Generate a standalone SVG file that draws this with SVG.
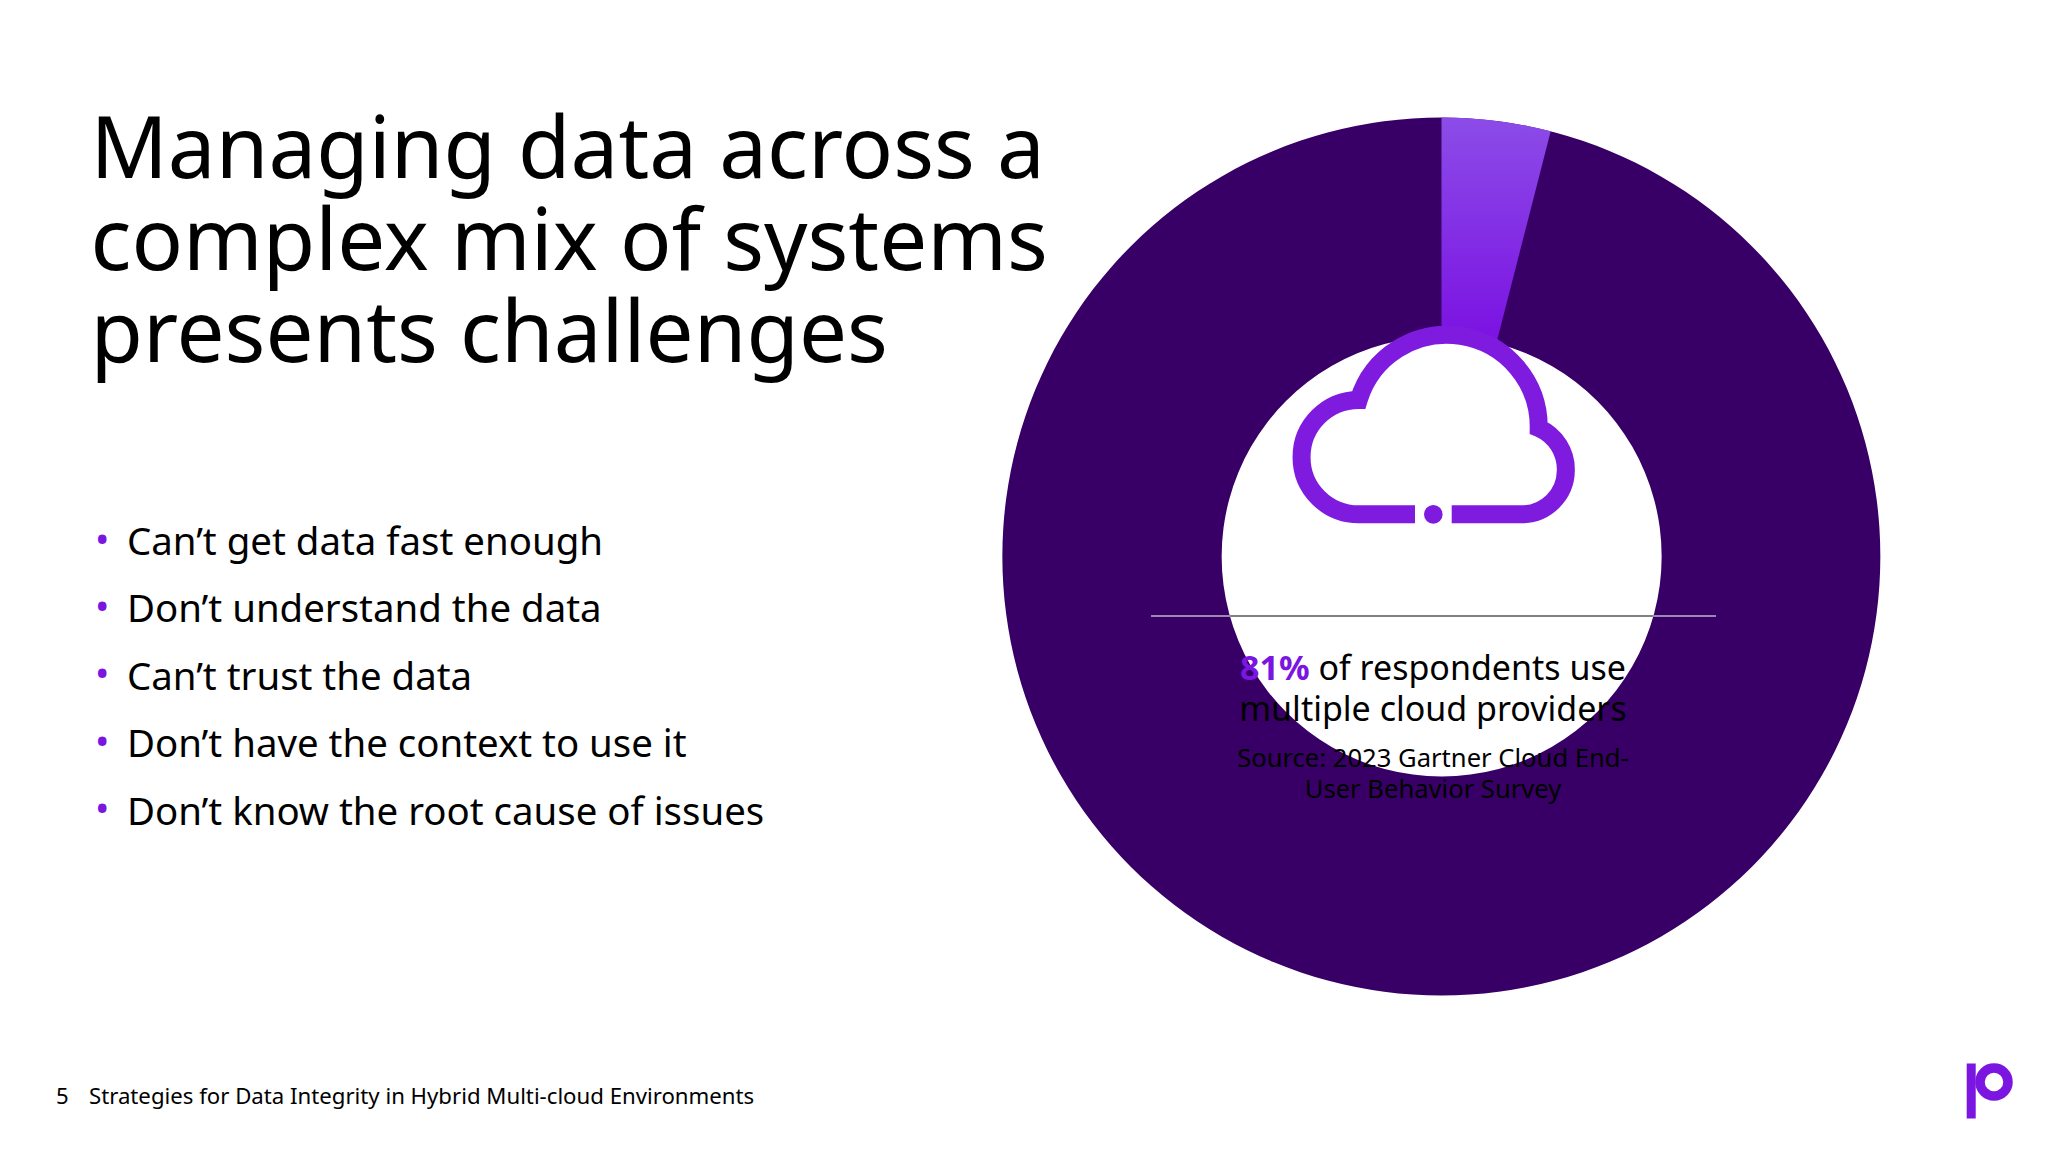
<svg xmlns="http://www.w3.org/2000/svg" width="2048" height="1152" viewBox="0 0 2048 1152">
<style>
text{font-family:"Noto Sans","Open Sans",sans-serif;fill:#000}
.t{font-size:85.3px}
.b{font-size:38.4px}
.d{font-size:38.4px;fill:#7b16e0}
.m{font-size:34px;text-anchor:middle}
.s{font-size:25.6px;text-anchor:middle}
.f{font-size:22.2px}
</style>
<defs><linearGradient id="g" gradientUnits="userSpaceOnUse" x1="0" y1="117" x2="0" y2="340"><stop offset="0" stop-color="#8c4ce8"/><stop offset="1" stop-color="#7b12e2"/></linearGradient></defs>
<rect width="2048" height="1152" fill="#fff"/>
<g id="title"><text class="t" x="90.5" y="177.5">Managing data across a</text><text class="t" x="90.5" y="270">complex mix of systems</text><text class="t" x="90.5" y="362">presents challenges</text></g>
<g id="bullets">
<text class="d" x="95" y="552.5">•</text><text class="b" x="127" y="555">Can’t get data fast enough</text>
<text class="d" x="95" y="619.5">•</text><text class="b" x="127" y="622">Don’t understand the data</text>
<text class="d" x="95" y="687">•</text><text class="b" x="127" y="689.5">Can’t trust the data</text>
<text class="d" x="95" y="754.5">•</text><text class="b" x="127" y="757">Don’t have the context to use it</text>
<text class="d" x="95" y="822">•</text><text class="b" x="127" y="824.5">Don’t know the root cause of issues</text>
</g>
<g id="donut">
<path fill="#380066" fill-rule="evenodd" d="M1441.5 117.5A439 439 0 1 1 1441.2 117.5ZM1441.5 336.5A220 220 0 1 0 1441.8 336.5Z"/>
<path fill="url(#g)" d="M1441.5 117.5A439 439 0 0 1 1550.7 131.3L1496.3 343.4A220 220 0 0 0 1441.5 336.5Z"/>
</g>
<g id="cloud">
<path fill="none" stroke="#7e1bdf" stroke-width="18" d="M1415 514.3H1358.7A57 57 0 0 1 1358.7 400A92 92 0 0 1 1538.7 428A45 45 0 0 1 1565.8 471A44 44 0 0 1 1522 514.3H1451.7"/>
<circle cx="1433.3" cy="514.4" r="9.3" fill="#7e1bdf"/>
</g>
<g id="divider"><line x1="1151" y1="616" x2="1716" y2="616" stroke="#9b88ad" stroke-width="2"/><line x1="1230.5" y1="616" x2="1652.5" y2="616" stroke="#808080" stroke-width="2"/></g>
<g id="stat">
<text class="m" x="1433" y="680"><tspan font-weight="700" style="fill:#7b16e0">81%</tspan> of respondents use</text>
<text class="m" x="1433" y="721">multiple cloud providers</text>
<text class="s" x="1433" y="767">Source: 2023 Gartner Cloud End-</text>
<text class="s" x="1433" y="797.5">User Behavior Survey</text>
</g>
<g id="footer"><text class="f" x="56" y="1104">5</text><text class="f" x="89" y="1104">Strategies for Data Integrity in Hybrid Multi-cloud Environments</text></g>
<g id="logo"><rect x="1966.7" y="1063.5" width="9" height="55" fill="#7b16e0"/><circle cx="1994" cy="1082" r="14" fill="none" stroke="#7b16e0" stroke-width="9.5"/></g>
</svg>
